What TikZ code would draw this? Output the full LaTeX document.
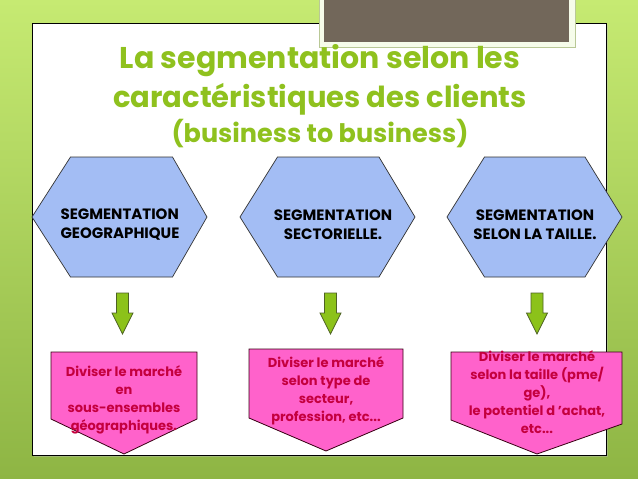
\documentclass[tikz,border=0pt]{standalone}
\usepackage{fontspec}
\setmainfont{Poppins}
\usetikzlibrary{positioning}
\definecolor{bgtop}{HTML}{C6EA72}
\definecolor{bgbot}{HTML}{8EB544}
\definecolor{titlegreen}{HTML}{8FC11E}
\definecolor{hexblue}{HTML}{A3BDF4}
\definecolor{boxpink}{HTML}{FF62CB}
\definecolor{boxtext}{HTML}{C4003E}
\definecolor{arrgreen}{HTML}{8CC21A}
\definecolor{arrdark}{HTML}{4E6224}
\definecolor{tabgrey}{HTML}{72675A}

\begin{document}
\begin{tikzpicture}[x=1pt,y=-1pt,
  hexa/.style={fill=hexblue,draw=black!80,line width=0.7pt,line join=miter},
  hextext/.style={font=\fontsize{15}{19}\selectfont\bfseries,align=center},
  penta/.style={fill=boxpink,draw=black!70!purple,line width=0.8pt},
  pentext/.style={font=\fontsize{13}{18}\selectfont\bfseries,text=boxtext,align=center},
  blockarr/.style={fill=arrgreen,draw=arrdark,line width=0.8pt},
  title/.style={font=\fontsize{30}{37}\selectfont\bfseries,text=titlegreen,align=center}
]
  \useasboundingbox (0,0) rectangle (638,479);

  % ---- Background and panel -----------------------------------
  \shade[top color=bgtop,bottom color=bgbot] (0,0) rectangle (638,479);
  \fill[black!25,opacity=0.4] (34,25) rectangle (608,457);
  \draw[fill=white,line width=0.8pt] (32,23) rectangle (606,455);

  % grey tab at the top
  \fill[white!85!bgtop,draw=bgtop!70!black!60,line width=0.6pt] (319,-2) rectangle (575,47);
  \fill[tabgrey] (324,-2) rectangle (569,42);

  % ---- Title ---------------------------------------------------
  \node[title] (T1) at (320,61) {La segmentation selon les};
  \node[title,font=\fontsize{29}{37}\selectfont\bfseries] (T2) at (320,99) {caractéristiques des clients};
  \node[title,font=\fontsize{25.5}{30}\selectfont\bfseries] (T3) at (320,134) {(business to business)};

  % ---- Hexagons (top row) --------------------------------------
  \draw[hexa] (32,217) -- (70.5,157) -- (172.5,157) -- (207,217) -- (172.5,277) -- (70.5,277) -- cycle;
  \draw[hexa] (240,217) -- (277.5,157) -- (379,157) -- (415,217) -- (379,277) -- (277.5,277) -- cycle;
  \draw[hexa] (447,217) -- (484.5,157) -- (585,157) -- (622,217) -- (585,277) -- (484.5,277) -- cycle;

  \node[hextext,align=left] (HA) at (120,225) {SEGMENTATION\\GEOGRAPHIQUE};
  \node[hextext] (HB) at (333,225) {SEGMENTATION\\SECTORIELLE.};
  \node[hextext] (HC) at (535,225) {SEGMENTATION\\SELON LA TAILLE.};

  % ---- Down arrows ---------------------------------------------
  \draw[blockarr] (116.5,293) -- (128.5,293) -- (128.5,313) -- (133,313) -- (122.5,334)
    -- (112,313) -- (116.5,313) -- cycle;
  \draw[blockarr] (324.5,293) -- (336.5,293) -- (336.5,313) -- (341,313) -- (330.5,334)
    -- (320,313) -- (324.5,313) -- cycle;
  \draw[blockarr] (531,293) -- (543,293) -- (543,313) -- (547.5,313) -- (537,334)
    -- (526.5,313) -- (531,313) -- cycle;

  % ---- Pink boxes (bottom row) ---------------------------------
  \draw[penta] (51,352) -- (197,352) -- (197,419) -- (124,454) -- (51,419) -- cycle;
  \draw[penta] (249,349) -- (403,349) -- (403,418) -- (326,451) -- (249,418) -- cycle;
  \draw[penta] (451,352) -- (622,352) -- (622,424) -- (537,454) -- (451,420) -- cycle;

  \node[pentext] (PA) at (124,400) {Diviser le marché\\en\\sous-ensembles\\géographiques.};
  \node[pentext] (PB) at (326,391) {Diviser le marché\\selon type de\\secteur,\\profession, etc...};
  \node[pentext] (PC) at (537,392) {Diviser le marché\\selon la taille (pme/\\ge),\\le potentiel d 'achat,\\etc...};

\end{tikzpicture}
\end{document}
